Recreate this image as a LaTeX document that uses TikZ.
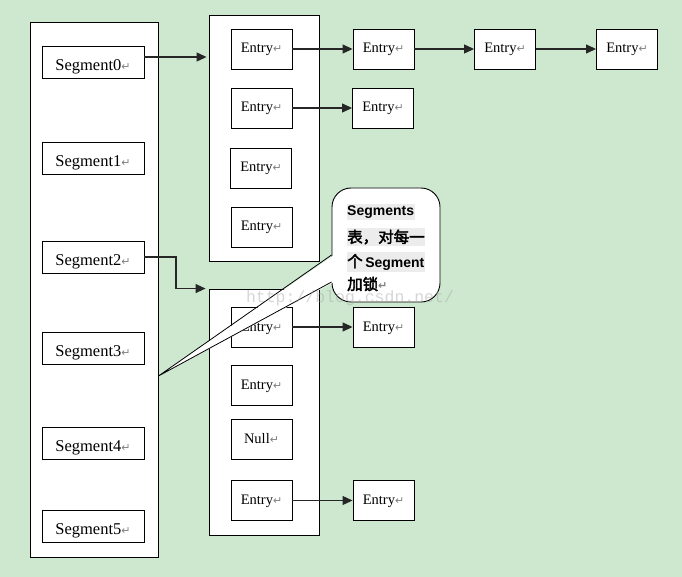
\documentclass[tikz,border=0pt]{standalone}
\usepackage{fontspec}
\setmainfont{Liberation Serif}
\newfontfamily\cjk[AutoFakeBold=2.5]{Noto Sans CJK SC}
\newfontfamily\lsans{Liberation Sans}
\newfontfamily\symf{DejaVu Sans}
\newfontfamily\wmfont{Liberation Mono}
\usetikzlibrary{arrows.meta,calc}
\definecolor{bg}{RGB}{205,232,207}
\definecolor{hl}{RGB}{236,236,236}
\newcommand{\retmark}{{\symf\fontsize{11}{11}\selectfont\color{gray}↵}}
\tikzset{
  box/.style={draw, fill=white, line width=0.9pt, inner sep=0pt},
  segbox/.style={box, minimum width=102pt, minimum height=32pt, font=\fontsize{16.5}{18}\selectfont, text height=17pt, text depth=0pt},
  entbox/.style={box, minimum width=61pt, minimum height=40pt, font=\fontsize{14.5}{17}\selectfont, text height=10.5pt, text depth=2.5pt},
  contbox/.style={draw, fill=white, line width=0.9pt, inner sep=0pt},
  arr/.style={line width=1.1pt, draw=black!85, -{Triangle[length=10pt,width=9pt]}},
  hlline/.style={fill=hl, anchor=west, inner xsep=0.5pt, inner ysep=2pt, font=\fontsize{14}{16}\selectfont},
  plline/.style={anchor=west, inner xsep=0.5pt, inner ysep=2pt, font=\fontsize{14}{16}\selectfont}
}
\begin{document}
\begin{tikzpicture}[x=1pt,y=-1pt]
\fill[bg] (0,0) rectangle (682,577);
\useasboundingbox (0,0) rectangle (682,577);

% containers
\node[contbox, minimum width=128pt, minimum height=535pt] (big) at (94,289.5) {};
\node[contbox, minimum width=110pt, minimum height=246pt] (up) at (264,138) {};
\node[contbox, minimum width=110pt, minimum height=246pt] (lo) at (264,412) {};

% segments
\node[segbox] (s0) at (93,62) {Segment0\retmark};
\node[segbox] (s1) at (93,158) {Segment1\retmark};
\node[segbox] (s2) at (93,257) {Segment2\retmark};
\node[segbox] (s3) at (93,348) {Segment3\retmark};
\node[segbox] (s4) at (93,443) {Segment4\retmark};
\node[segbox] (s5) at (93,526) {Segment5\retmark};

% upper entries
\node[entbox] (u0) at (261.5,49) {Entry\retmark};
\node[entbox] (u1) at (261.5,108) {Entry\retmark};
\node[entbox] (u2) at (261,168) {Entry\retmark};
\node[entbox] (u3) at (261.5,227) {Entry\retmark};

% lower entries
\node[entbox] (l0) at (261.5,327) {Entry\retmark};
\node[entbox] (l1) at (261.5,385) {Entry\retmark};
\node[entbox] (l2) at (261.5,439) {Null\retmark\hspace{14pt}};
\node[entbox] (l3) at (261.5,500.5) {Entry\retmark};

% chained entries
\node[entbox] (a1) at (383.5,49) {Entry\retmark};
\node[entbox] (a2) at (505,49) {Entry\retmark};
\node[entbox] (a3) at (627,49) {Entry\retmark};
\node[entbox] (b1) at (383,108) {Entry\retmark};
\node[entbox] (c1) at (383.5,327) {Entry\retmark};
\node[entbox] (d1) at (383.5,500.5) {Entry\retmark};

% arrows
\coordinate (s0a) at ($(s0.east)+(0,-5)$);
\draw[arr, shorten >=2pt] (s0a) -- (s0a -| up.west);
\coordinate (bend) at (176,0);
\draw[arr, shorten >=3pt] (s2.east) -| (bend |- lo.north west) -- (lo.north west);
\draw[arr] (u0) -- (a1);
\draw[arr] (a1) -- (a2);
\draw[arr] (a2) -- (a3);
\draw[arr] (u1) -- (b1);
\draw[arr] (l0) -- (c1);
\draw[arr] (l3) -- (d1);

% callout
\node[draw, fill=white, line width=0.9pt, rounded corners=19pt, minimum width=108pt, minimum height=114pt, inner sep=0pt] (call) at (386,245) {};
\coordinate (tip) at (big.east |- 0,376);
\coordinate (pa) at (call.west |- 0,255);
\coordinate (pb) at (call.west |- 0,282);
\fill[white] ($(pa)+(2.5,0)$) -- (tip) -- ($(pb)+(2.5,0)$) -- cycle;
\draw[line width=0.8pt] (pa) -- (tip) -- (pb);

\node[hlline] (t1) at (346.5,212) {\lsans\bfseries Segments};
\node[hlline] (t2) at (346.5,237) {\cjk\fontsize{15.5}{17}\selectfont\bfseries 表，对每一};
\node[hlline] (t3) at (346.5,262) {\cjk\fontsize{15.5}{17}\selectfont\bfseries 个\,{\lsans\fontsize{14}{16}\selectfont Segment}};
\node[plline] (t4) at (346.5,284) {\cjk\fontsize{15.5}{17}\selectfont\bfseries 加锁\retmark};

% watermark
\node[text=gray!70, opacity=0.45, font=\wmfont\fontsize{16.5}{18}\selectfont] (wm) at (350,298) {http://blog.csdn.net/};
\end{tikzpicture}
\end{document}
